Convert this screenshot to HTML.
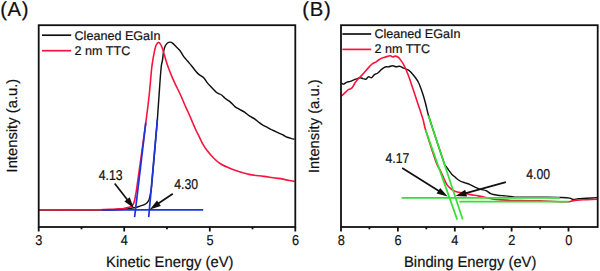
<!DOCTYPE html>
<html><head><meta charset="utf-8"><style>
html,body{margin:0;padding:0;background:#fff;width:600px;height:271px;overflow:hidden;font-family:"Liberation Sans",sans-serif;}
text{stroke:#111;stroke-width:0.2px;text-rendering:geometricPrecision;}
</style></head><body>
<svg width="600" height="271" viewBox="0 0 600 271" style="position:absolute;left:0;top:0"><rect width="600" height="271" fill="#fff"/><text x="0.2" y="16.45" letter-spacing="0.65" font-size="20.3" font-family="'Liberation Sans', sans-serif" fill="#111">(A)</text><path d="M39.0,210.0 C59.1,210.0 79.9,210.1 100.0,210.0 C106.6,210.0 113.4,209.8 120.0,209.5 C122.7,209.4 125.4,208.9 128.0,208.6 C130.4,208.3 133.0,208.0 135.4,207.5 C136.9,207.2 138.4,206.6 139.9,206.1 C141.4,205.6 142.9,205.3 144.3,204.6 C145.3,204.1 146.3,203.5 147.1,202.7 C147.9,201.9 148.5,201.0 148.9,200.0 C149.6,198.1 150.0,196.0 150.4,194.0 C150.8,192.0 151.2,190.0 151.4,188.0 C153.5,165.3 155.5,142.0 157.4,119.3 C158.0,111.6 158.4,103.7 159.0,96.0 C159.7,86.1 160.3,75.9 161.3,66.0 C161.5,64.0 162.2,62.1 162.5,60.1 C163.0,57.2 163.0,54.2 163.6,51.3 C164.0,49.4 164.5,47.5 165.3,45.8 C165.8,44.7 166.6,43.7 167.5,43.0 C168.3,42.4 169.3,42.1 170.3,42.1 C171.1,42.1 171.9,42.6 172.5,43.1 C173.9,44.2 175.0,45.6 176.2,46.8 C177.4,48.0 178.8,49.1 179.9,50.5 C181.3,52.3 182.3,54.5 183.6,56.4 C184.7,57.9 186.1,59.4 187.3,60.8 C188.7,62.5 190.3,64.3 191.7,66.0 C193.2,67.8 194.5,69.8 196.0,71.5 C196.9,72.6 198.0,73.7 199.1,74.6 C200.5,75.7 202.4,76.4 203.7,77.7 C205.2,79.2 206.1,81.2 207.4,82.9 C208.2,83.9 209.1,84.9 210.0,85.8 C211.1,86.9 212.2,88.1 213.3,89.2 C214.4,90.3 215.3,91.6 216.6,92.5 C218.1,93.6 220.1,94.0 221.6,95.0 C222.9,95.9 223.8,97.3 225.0,98.3 C226.5,99.5 228.4,100.3 229.9,101.6 C231.7,103.1 233.1,105.1 234.9,106.6 C236.4,107.8 238.2,108.6 239.9,109.6 C241.5,110.5 243.3,111.3 244.9,112.4 C246.3,113.4 247.6,114.7 249.0,115.7 C251.0,117.0 253.3,118.0 255.3,119.3 C256.7,120.3 257.9,121.6 259.3,122.6 C260.6,123.6 261.9,124.5 263.3,125.3 C264.6,126.0 266.0,126.6 267.3,127.3 C268.6,128.0 269.9,129.0 271.3,129.7 C272.6,130.3 274.0,130.7 275.3,131.3 C276.6,131.9 278.0,132.7 279.3,133.3 C280.6,133.9 281.9,134.4 283.2,135.0 C284.6,135.7 285.8,136.8 287.2,137.3 C289.5,138.2 292.1,138.6 294.5,139.3" fill="none" stroke="#111111" stroke-width="1.45" stroke-linejoin="round"/><path d="M39.0,209.8 C59.1,209.8 79.9,209.9 100.0,209.8 C103.3,209.8 106.7,209.6 110.0,209.4 C114.4,209.2 118.9,209.1 123.3,208.6 C125.5,208.3 127.8,207.8 129.9,207.1 C130.9,206.7 132.0,206.2 132.6,205.3 C133.6,204.0 134.0,202.3 134.5,200.7 C135.0,199.0 135.2,197.2 135.5,195.5 C135.9,193.4 136.3,191.2 136.6,189.0 C139.7,167.1 142.9,144.5 145.8,122.6 C147.0,113.8 148.1,104.8 149.1,96.0 C150.1,86.8 150.8,77.2 151.7,68.0 C151.9,66.1 152.2,64.2 152.5,62.4 C152.8,60.2 153.2,57.9 153.6,55.7 C153.9,53.9 154.2,52.0 154.7,50.2 C155.2,48.3 155.5,46.3 156.4,44.6 C156.9,43.7 157.6,42.4 158.6,42.4 C159.6,42.4 160.3,43.7 160.8,44.6 C161.8,46.3 162.4,48.3 163.0,50.2 C163.5,51.8 163.9,53.4 164.4,55.0 C165.1,57.4 165.8,60.0 166.6,62.4 C167.3,64.6 168.1,66.8 168.9,69.0 C169.8,71.5 170.8,74.0 171.8,76.4 C172.7,78.6 173.8,80.9 174.8,83.1 C175.7,85.1 176.8,87.0 177.7,89.0 C178.8,91.3 180.0,93.7 181.0,96.0 C182.5,99.3 183.8,102.7 185.3,106.0 C186.6,109.0 188.1,112.0 189.4,115.0 C190.5,117.5 191.6,120.2 192.7,122.7 C193.8,125.3 194.9,128.0 196.1,130.5 C197.1,132.7 198.3,134.9 199.4,137.1 C200.5,139.3 201.5,141.7 202.7,143.8 C204.0,146.1 205.5,148.3 207.1,150.4 C209.2,153.1 211.4,155.8 213.8,158.2 C215.8,160.2 218.0,162.2 220.4,163.7 C223.2,165.5 226.3,166.8 229.3,168.1 C231.1,168.9 233.1,169.7 235.0,170.3 C239.6,171.8 244.3,173.4 249.0,174.4 C253.8,175.4 258.8,175.7 263.7,176.4 C268.6,177.1 273.6,177.6 278.5,178.4 C283.8,179.3 289.2,180.4 294.5,181.4" fill="none" stroke="#f8143c" stroke-width="1.6" stroke-linejoin="round"/><line x1="101.7" y1="209.8" x2="203.2" y2="209.8" stroke="#1a35e0" stroke-width="1.7"/><line x1="145.8" y1="122.6" x2="134.6" y2="217.1" stroke="#1a35e0" stroke-width="1.7"/><line x1="157.4" y1="119.3" x2="148.7" y2="217.1" stroke="#1a35e0" stroke-width="1.7"/><line x1="114.7" y1="183.5" x2="128.3" y2="200.9" stroke="#111111" stroke-width="1.7"/><polygon points="133.8,208.0 124.4,201.4 129.7,197.2" fill="#111111"/><line x1="172.8" y1="193.7" x2="157.2" y2="204.3" stroke="#111111" stroke-width="1.7"/><polygon points="149.8,209.4 157.0,200.4 160.8,206.0" fill="#111111"/><text transform="translate(98.8,179.7) scale(0.97,1.13)" font-size="12.6" font-family="'Liberation Sans', sans-serif" fill="#111">4.13</text><text transform="translate(174.3,189.0) scale(0.97,1.13)" font-size="12.6" font-family="'Liberation Sans', sans-serif" fill="#111">4.30</text><rect x="38.7" y="25.2" width="256.6" height="201.8" fill="none" stroke="#111111" stroke-width="1.8"/><line x1="38.7" y1="227.0" x2="38.7" y2="231.5" stroke="#111111" stroke-width="1.8"/><text transform="translate(38.9,245.0) scale(0.91,1.02)" font-size="14" font-family="'Liberation Sans', sans-serif" fill="#111" text-anchor="middle">3</text><line x1="124.2" y1="227.0" x2="124.2" y2="231.5" stroke="#111111" stroke-width="1.8"/><text transform="translate(124.4,245.0) scale(0.91,1.02)" font-size="14" font-family="'Liberation Sans', sans-serif" fill="#111" text-anchor="middle">4</text><line x1="209.8" y1="227.0" x2="209.8" y2="231.5" stroke="#111111" stroke-width="1.8"/><text transform="translate(210.0,245.0) scale(0.91,1.02)" font-size="14" font-family="'Liberation Sans', sans-serif" fill="#111" text-anchor="middle">5</text><line x1="295.3" y1="227.0" x2="295.3" y2="231.5" stroke="#111111" stroke-width="1.8"/><text transform="translate(295.5,245.0) scale(0.91,1.02)" font-size="14" font-family="'Liberation Sans', sans-serif" fill="#111" text-anchor="middle">6</text><line x1="81.5" y1="227.0" x2="81.5" y2="229.3" stroke="#111111" stroke-width="1.8"/><line x1="167.0" y1="227.0" x2="167.0" y2="229.3" stroke="#111111" stroke-width="1.8"/><line x1="252.5" y1="227.0" x2="252.5" y2="229.3" stroke="#111111" stroke-width="1.8"/><line x1="42" y1="35.2" x2="71.2" y2="35.2" stroke="#111111" stroke-width="1.7"/><line x1="42" y1="50.7" x2="71.2" y2="50.7" stroke="#f8143c" stroke-width="1.7"/><text x="74.5" y="39.8" font-size="12.6" font-family="'Liberation Sans', sans-serif" fill="#111">Cleaned EGaIn</text><text x="74.5" y="55.0" font-size="12.6" font-family="'Liberation Sans', sans-serif" fill="#111">2 nm TTC</text><text transform="translate(169.8,266.8) scale(1,1.03)" font-size="14.8" font-family="'Liberation Sans', sans-serif" fill="#111" text-anchor="middle">Kinetic Energy (eV)</text><text transform="translate(17.0,125.6) rotate(-90)" x="0" y="0" font-size="14.8" font-family="'Liberation Sans', sans-serif" fill="#111" text-anchor="middle">Intensity (a.u.)</text><text x="302.3" y="16.45" letter-spacing="0.65" font-size="20.3" font-family="'Liberation Sans', sans-serif" fill="#111">(B)</text><path d="M341.5,83.2 C342.2,83.5 342.9,84.2 343.7,84.1 C344.8,83.9 345.5,82.7 346.5,82.3 C347.6,81.8 348.9,81.8 350.1,81.4 C351.4,81.0 352.6,80.4 353.8,79.9 C355.0,79.4 356.3,79.0 357.5,78.6 C358.4,78.3 359.3,77.7 360.3,77.7 C361.3,77.7 362.2,78.3 363.1,78.6 C364.0,78.8 364.9,79.5 365.8,79.2 C367.0,78.8 367.4,77.1 368.6,76.8 C369.5,76.5 370.5,78.0 371.4,77.7 C372.6,77.3 373.1,75.7 374.1,74.9 C375.2,74.1 376.7,73.8 377.8,73.0 C379.2,72.0 380.2,70.5 381.5,69.4 C382.6,68.5 383.8,67.5 385.2,67.0 C386.3,66.6 387.6,67.0 388.7,66.8 C390.0,66.6 391.1,65.7 392.4,65.7 C393.7,65.7 394.8,66.7 396.1,66.8 C397.3,66.9 398.6,66.0 399.8,66.2 C401.2,66.4 402.2,67.5 403.5,68.1 C405.3,68.9 407.3,69.3 408.9,70.3 C410.1,71.1 411.0,72.4 412.0,73.5 C413.2,74.8 414.4,76.2 415.5,77.7 C416.6,79.2 417.7,80.8 418.5,82.5 C419.5,84.5 420.2,86.7 421.0,88.8 C421.8,91.0 422.6,93.3 423.3,95.5 C424.1,98.0 424.8,100.6 425.5,103.2 C426.6,107.3 427.3,111.7 428.6,115.8 C433.7,132.1 439.3,148.8 444.8,165.0 C445.0,165.6 445.6,166.0 446.0,166.5 C446.7,167.5 447.5,168.4 448.2,169.4 C449.3,170.9 450.3,172.5 451.5,173.9 C452.7,175.2 454.1,176.3 455.4,177.4 C456.4,178.3 457.4,179.3 458.5,180.0 C459.6,180.7 460.8,181.3 462.0,181.8 C463.1,182.3 464.2,182.5 465.3,182.9 C467.0,183.5 468.8,184.1 470.5,184.8 C472.2,185.6 473.9,186.6 475.6,187.4 C477.3,188.1 479.0,188.9 480.8,189.4 C482.5,189.9 484.4,189.9 486.0,190.6 C487.8,191.4 489.2,193.2 491.1,193.9 C493.1,194.7 495.4,194.9 497.6,195.2 C499.7,195.5 501.9,195.6 504.0,195.8 C506.1,196.0 508.4,196.2 510.5,196.5 C512.0,196.7 513.5,197.1 515.0,197.1 C523.2,197.3 531.8,197.1 540.0,197.2 C546.6,197.3 553.4,197.3 560.0,197.5 C563.3,197.6 566.7,197.6 570.0,198.1 C571.2,198.3 572.1,199.4 573.3,199.5 C575.0,199.6 576.6,198.9 578.3,198.8 C581.1,198.6 583.9,198.5 586.7,198.3 C590.2,198.1 593.8,197.8 597.3,197.6" fill="none" stroke="#111111" stroke-width="1.45" stroke-linejoin="round"/><path d="M341.5,96.0 C342.5,95.1 343.6,94.1 344.6,93.2 C345.8,92.1 346.9,90.7 348.3,89.7 C349.4,88.9 351.0,88.9 352.0,87.9 C353.3,86.6 353.8,84.7 354.8,83.2 C355.9,81.6 357.2,80.1 358.5,78.6 C359.6,77.3 360.9,76.2 362.1,74.9 C363.4,73.5 364.6,72.1 365.8,70.7 C367.0,69.3 368.3,67.9 369.5,66.6 C370.4,65.6 371.2,64.6 372.3,63.8 C373.4,63.0 374.8,62.7 376.0,62.0 C377.3,61.2 378.4,59.9 379.7,59.2 C381.1,58.4 382.8,57.9 384.3,57.4 C385.4,57.0 386.6,56.7 387.8,56.4 C388.7,56.2 389.6,55.6 390.5,55.7 C391.3,55.8 391.9,56.9 392.7,57.0 C393.5,57.1 394.3,56.1 395.1,56.1 C396.1,56.1 397.1,56.4 397.9,57.0 C399.0,57.8 399.9,59.0 400.7,60.1 C401.7,61.5 402.7,62.9 403.5,64.4 C404.6,66.5 405.7,68.8 406.6,71.0 C407.6,73.4 408.6,76.0 409.5,78.5 C410.5,81.2 411.3,83.9 412.2,86.6 C413.1,89.4 414.1,92.2 415.0,95.0 C415.9,97.7 416.8,100.5 417.7,103.2 C418.6,105.9 419.6,108.8 420.5,111.5 C421.4,114.3 422.4,117.2 423.2,120.0 C423.9,122.6 424.3,125.4 425.0,128.0 C425.6,130.3 426.5,132.7 427.2,135.0 C428.8,140.0 430.4,145.1 432.0,150.0 C433.4,154.3 434.8,158.8 436.4,163.0 C437.0,164.5 437.8,166.0 438.6,167.5 C439.2,168.7 440.0,169.8 440.6,171.0 C441.3,172.5 441.9,174.0 442.6,175.5 C443.2,176.8 443.7,178.1 444.3,179.4 C445.2,181.2 445.9,183.2 447.1,184.9 C448.0,186.2 449.2,187.3 450.4,188.3 C451.6,189.3 452.9,190.3 454.3,191.0 C455.5,191.6 456.8,191.8 458.1,192.1 C459.6,192.4 461.2,192.5 462.7,192.8 C465.3,193.3 467.9,194.1 470.5,194.6 C473.0,195.1 475.7,195.4 478.2,195.9 C480.4,196.3 482.6,196.7 484.7,197.2 C487.2,197.8 489.8,198.6 492.4,199.0 C495.4,199.5 498.5,199.7 501.5,199.9 C505.9,200.2 510.5,200.5 515.0,200.6 C519.5,200.7 524.0,200.6 528.5,200.7 C532.3,200.7 536.2,200.8 540.0,200.9 C549.2,201.2 558.8,201.9 568.0,201.8 C569.8,201.8 571.5,200.8 573.3,200.6 C576.6,200.2 580.0,200.0 583.3,199.8 C587.9,199.5 592.7,199.5 597.3,199.3" fill="none" stroke="#f8143c" stroke-width="1.6" stroke-linejoin="round"/><line x1="401.6" y1="197.8" x2="559.7" y2="197.8" stroke="#33e033" stroke-width="1.7"/><line x1="459.4" y1="201.7" x2="568.6" y2="201.7" stroke="#33e033" stroke-width="1.7"/><line x1="425.5" y1="129.9" x2="457.2" y2="219.6" stroke="#33e033" stroke-width="1.7"/><line x1="428.4" y1="115.5" x2="462.7" y2="219.6" stroke="#33e033" stroke-width="1.7"/><line x1="402.2" y1="168.0" x2="440.1" y2="191.8" stroke="#111111" stroke-width="1.7"/><polygon points="447.7,196.6 436.6,193.6 440.2,187.9" fill="#111111"/><line x1="505.9" y1="182.1" x2="464.2" y2="193.6" stroke="#111111" stroke-width="1.7"/><polygon points="455.5,196.0 465.2,189.8 467.0,196.4" fill="#111111"/><text transform="translate(385.5,162.8) scale(0.97,1.13)" font-size="12.6" font-family="'Liberation Sans', sans-serif" fill="#111">4.17</text><text transform="translate(526.2,179.4) scale(0.97,1.13)" font-size="12.6" font-family="'Liberation Sans', sans-serif" fill="#111">4.00</text><rect x="341.0" y="25.2" width="256.7" height="201.8" fill="none" stroke="#111111" stroke-width="1.8"/><line x1="341.0" y1="227.0" x2="341.0" y2="231.5" stroke="#111111" stroke-width="1.8"/><text transform="translate(341.2,245.0) scale(0.91,1.02)" font-size="14" font-family="'Liberation Sans', sans-serif" fill="#111" text-anchor="middle">8</text><line x1="397.9" y1="227.0" x2="397.9" y2="231.5" stroke="#111111" stroke-width="1.8"/><text transform="translate(398.1,245.0) scale(0.91,1.02)" font-size="14" font-family="'Liberation Sans', sans-serif" fill="#111" text-anchor="middle">6</text><line x1="454.8" y1="227.0" x2="454.8" y2="231.5" stroke="#111111" stroke-width="1.8"/><text transform="translate(454.9,245.0) scale(0.91,1.02)" font-size="14" font-family="'Liberation Sans', sans-serif" fill="#111" text-anchor="middle">4</text><line x1="511.6" y1="227.0" x2="511.6" y2="231.5" stroke="#111111" stroke-width="1.8"/><text transform="translate(511.8,245.0) scale(0.91,1.02)" font-size="14" font-family="'Liberation Sans', sans-serif" fill="#111" text-anchor="middle">2</text><line x1="568.5" y1="227.0" x2="568.5" y2="231.5" stroke="#111111" stroke-width="1.8"/><text transform="translate(568.7,245.0) scale(0.91,1.02)" font-size="14" font-family="'Liberation Sans', sans-serif" fill="#111" text-anchor="middle">0</text><line x1="369.4" y1="227.0" x2="369.4" y2="229.3" stroke="#111111" stroke-width="1.8"/><line x1="426.3" y1="227.0" x2="426.3" y2="229.3" stroke="#111111" stroke-width="1.8"/><line x1="483.2" y1="227.0" x2="483.2" y2="229.3" stroke="#111111" stroke-width="1.8"/><line x1="540.1" y1="227.0" x2="540.1" y2="229.3" stroke="#111111" stroke-width="1.8"/><line x1="342.4" y1="34" x2="371.2" y2="34" stroke="#111111" stroke-width="1.7"/><line x1="342.4" y1="49.4" x2="371.2" y2="49.4" stroke="#f8143c" stroke-width="1.7"/><text x="374.4" y="38.4" font-size="12.6" font-family="'Liberation Sans', sans-serif" fill="#111">Cleaned EGaIn</text><text x="374.4" y="53.3" font-size="12.6" font-family="'Liberation Sans', sans-serif" fill="#111">2 nm TTC</text><text transform="translate(470.2,266.6) scale(1,1.03)" font-size="14.8" font-family="'Liberation Sans', sans-serif" fill="#111" text-anchor="middle">Binding Energy (eV)</text><text transform="translate(319.4,126.2) rotate(-90)" x="0" y="0" font-size="14.8" font-family="'Liberation Sans', sans-serif" fill="#111" text-anchor="middle">Intensity (a.u.)</text></svg>
</body></html>
